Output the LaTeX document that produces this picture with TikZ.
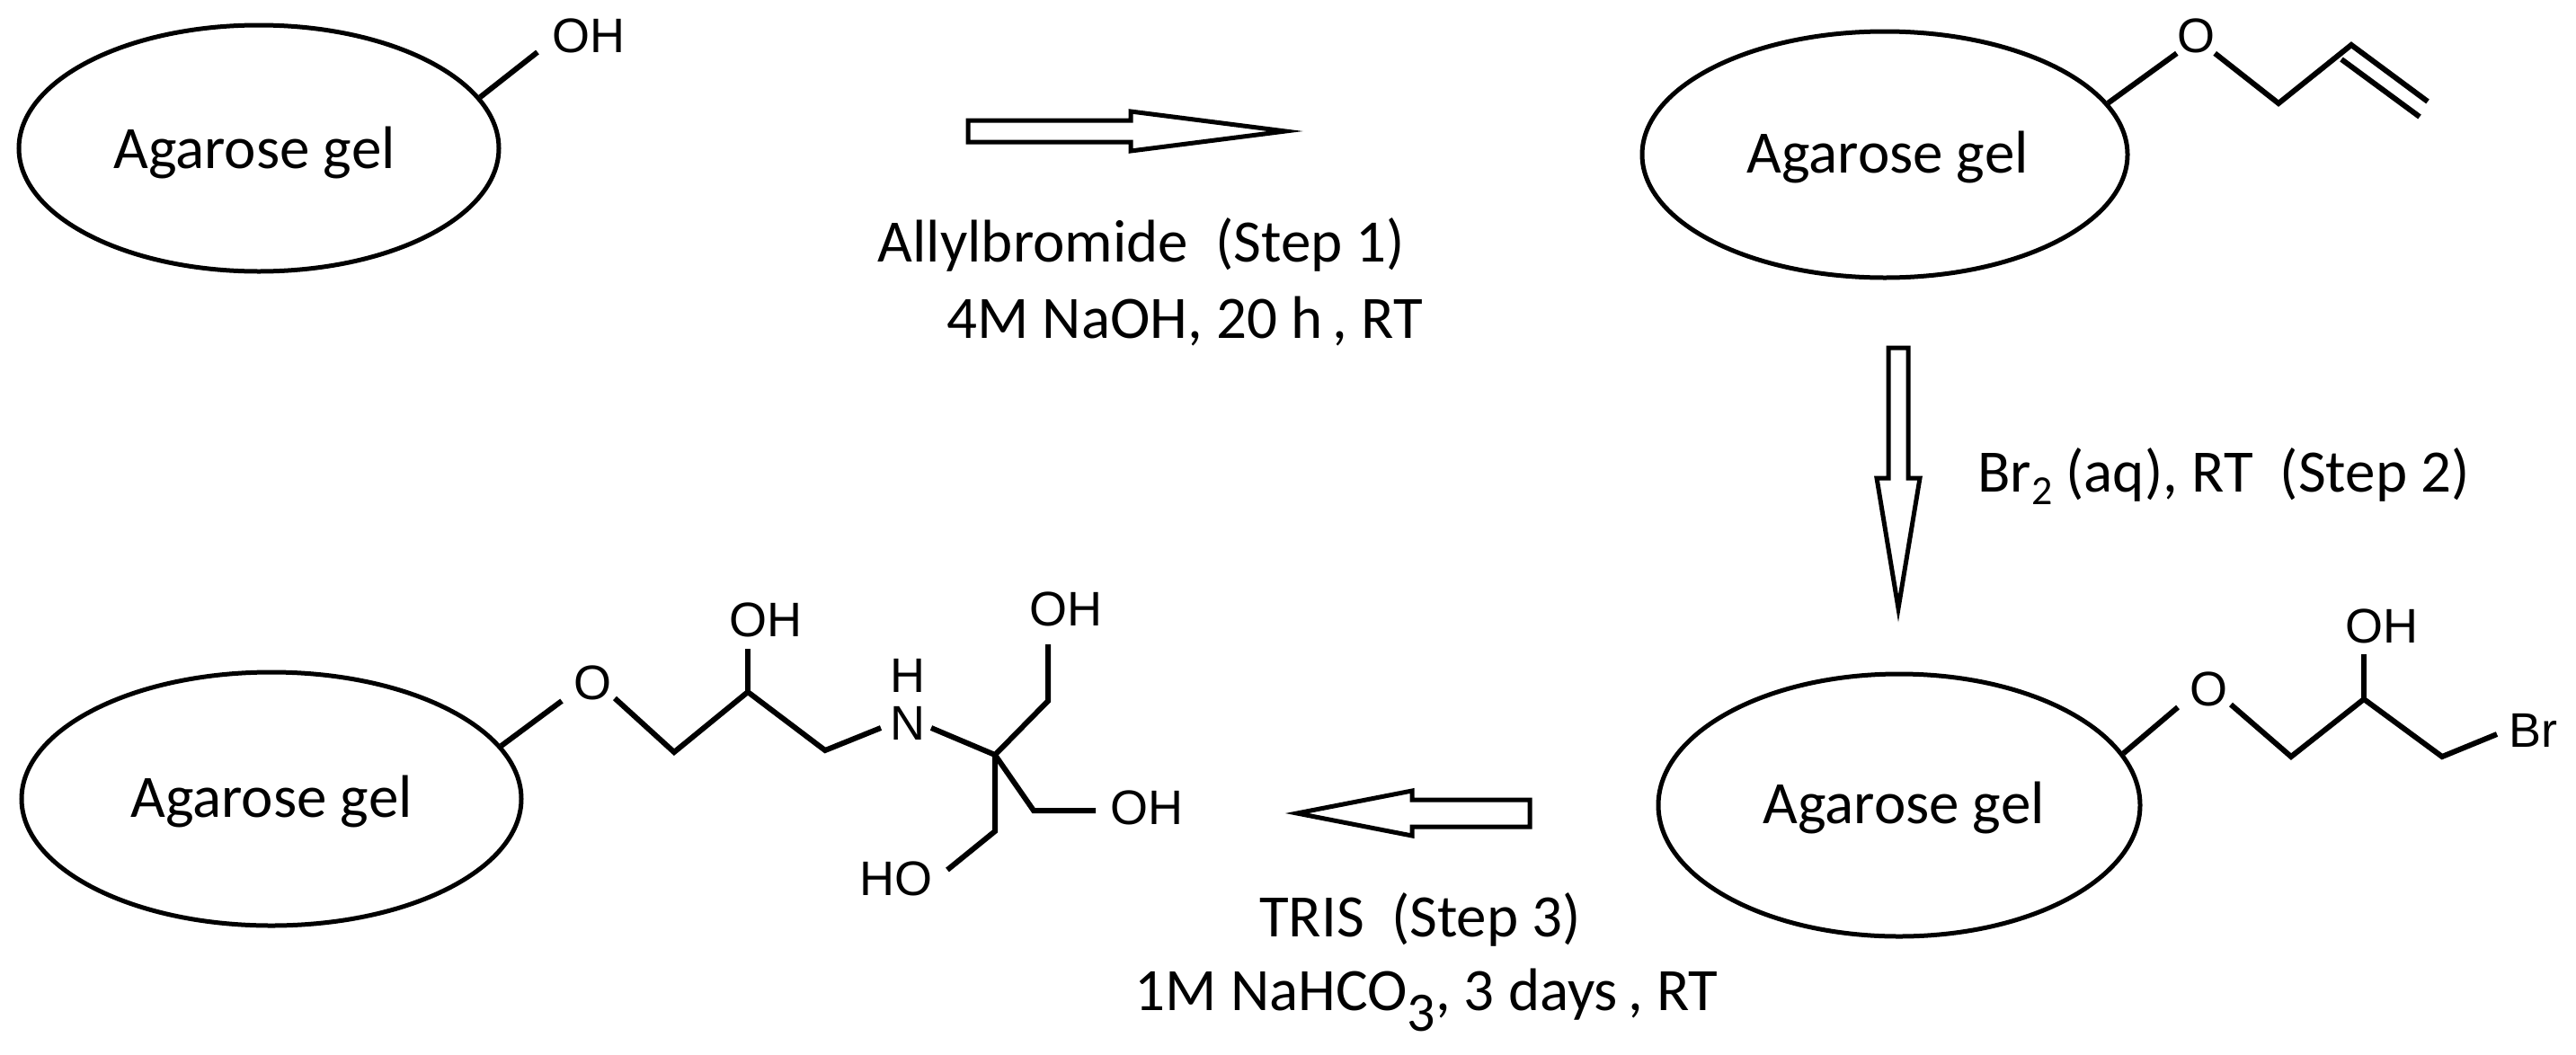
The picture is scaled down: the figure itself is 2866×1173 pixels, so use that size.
\documentclass[tikz,border=0pt]{standalone}
\usepackage{fontspec}
\setmainfont{Carlito}
\newfontfamily\chemfont{Liberation Sans}
\usetikzlibrary{shapes.geometric}
\newcommand{\lowsub}[2]{\raisebox{-#1}{\fontsize{46}{46}\selectfont #2}}
\begin{document}
\begin{tikzpicture}[x=1pt,y=-1pt,
  gel/.style={draw,ellipse,line width=5pt,inner sep=0pt},
  atom/.style={inner sep=0pt,font=\chemfont\fontsize{54}{60}\selectfont},
  bond/.style={line width=6pt,line join=miter},
  cond/.style={inner sep=0pt,font=\fontsize{67}{74}\selectfont},
  harrow/.style={draw,line width=5pt,fill=white,line join=miter}]
\useasboundingbox (0,0) rectangle (2866,1173);
% ellipse 1
\node[gel,minimum width=534pt,minimum height=274pt] (e1) at (288,165) {};
\node[cond] (t1) at (283,170) {Agarose gel};
\node[atom] (oh1) at (655,40) {OH};
\draw[bond] (e1.13) -- (598,58);
% arrow 1
\draw[harrow] (1077,134) -- (1258,134) -- (1258,124) -- (1430,146) -- (1258,168) -- (1258,158) -- (1077,158) -- cycle;
\node[cond] (c1a) at (1270,272) {Allylbromide\ \ (Step 1)};
\node[cond] (c1b) at (1318,358) {4M NaOH, 20 h\,, RT};
% ellipse 2
\node[gel,minimum width=540pt,minimum height=274pt] (e2) at (2097,172) {};
\node[cond] (t2) at (2100,175) {Agarose gel};
\node[atom] (o2) at (2443,40) {O};
\coordinate (a1) at (2535,115);
\coordinate (a2) at (2616,50);
\coordinate (a3) at (2701,113);
\draw[bond] (e2.13) -- (o2.south west);
\draw[bond] (o2.south east) -- (a1) -- (a2) -- (a3);
\draw[bond] (2605,66) -- (2692,130);
% arrow 2 (down)
\draw[harrow] (2101,387) -- (2123,387) -- (2123,532) -- (2136,532) -- (2112,677) -- (2088,532) -- (2101,532) -- cycle;
\node[cond,anchor=west] (c2) at (2200,530) {Br\lowsub{0.22em}{2} (aq), RT\ \ (Step 2)};
% ellipse 3
\node[gel,minimum width=536pt,minimum height=292pt] (e3) at (2113,896) {};
\node[cond] (t3) at (2118,899) {Agarose gel};
\node[atom] (o3) at (2457,767) {O};
\coordinate (b1) at (2549,842);
\coordinate (b2) at (2630,778);
\coordinate (b3) at (2717,842);
\node[atom] (oh3) at (2650,697) {OH};
\node[atom] (br3) at (2818,813) {Br};
\draw[bond] (e3.13) -- (2423,787);
\draw[bond] (2482,784) -- (b1) -- (b2) -- (b3) -- (2778,817);
\draw[bond] (b2) -- (2630,728);
% arrow 3 (left)
\draw[harrow] (1702,890) -- (1571,890) -- (1571,880) -- (1443,905) -- (1571,930) -- (1571,920) -- (1702,920) -- cycle;
\node[cond] (c3a) at (1580,1023) {TRIS\ \ (Step 3)};
\node[cond] (c3b) at (1587,1113) {1M NaHCO\lowsub{0.35em}{\fontsize{62}{62}\selectfont 3}, 3 days\,, RT};
% ellipse 4
\node[gel,minimum width=556pt,minimum height=282pt] (e4) at (302,889) {};
\node[cond] (t4) at (302,892) {Agarose gel};
\node[atom] (o4) at (659,760) {O};
\node[atom] (oh4a) at (852,690) {OH};
\node[atom] (n4) at (1010,805) {N};
\node[atom] (h4) at (1010,752) {H};
\node[atom] (oh4b) at (1186,678) {OH};
\node[atom,anchor=west] (oh4c) at (1235,899) {OH};
\node[atom] (ho4) at (997,978) {HO};
\coordinate (d1) at (750,837);
\coordinate (d2) at (832,770);
\coordinate (d3) at (918,835);
\coordinate (q) at (1107,840);
\coordinate (d4) at (1166,780);
\coordinate (d5) at (1150,902);
\coordinate (d6) at (1107,925);
\draw[bond] (e4.13) -- (625,780);
\draw[bond] (684,777) -- (d1) -- (d2) -- (d3) -- (980,810);
\draw[bond] (d2) -- (832,722);
\draw[bond] (1036,810) -- (q);
\draw[bond] (q) -- (d4) -- (1166,717);
\draw[bond] (q) -- (d5) -- (1219,902);
\draw[bond] (q) -- (d6) -- (1054,968);
\end{tikzpicture}
\end{document}
